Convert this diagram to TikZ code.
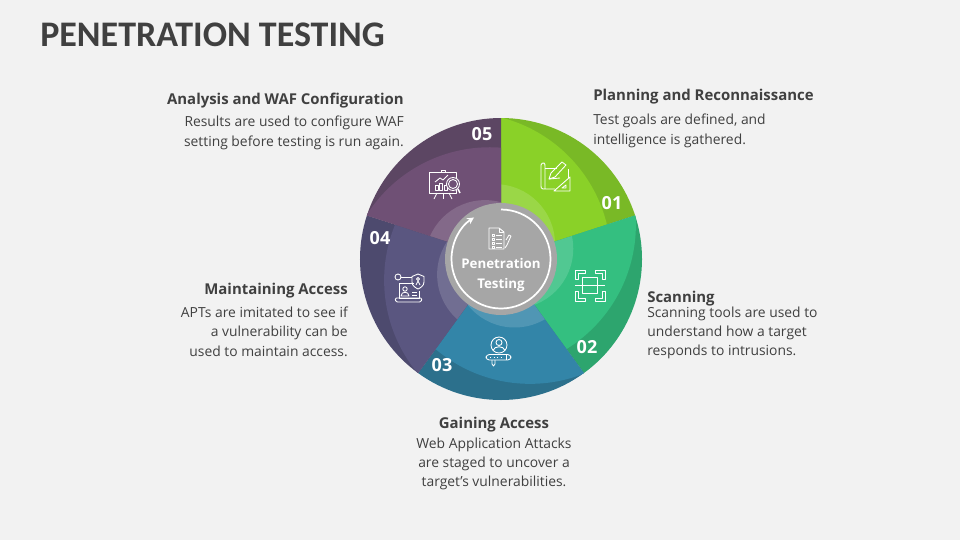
\documentclass[tikz,border=0pt]{standalone}
\usepackage{fontspec}
\setmainfont{Open Sans}
\newfontfamily\titlefont{Carlito}
\definecolor{pagebg}{HTML}{F2F2F2}
\definecolor{inktext}{HTML}{404040}
\definecolor{hubgrey}{HTML}{A6A6A6}
\definecolor{greenA}{HTML}{8AD128}
\definecolor{greenB}{HTML}{79B926}
\definecolor{mintA}{HTML}{34BF80}
\definecolor{mintB}{HTML}{2DA56E}
\definecolor{blueA}{HTML}{3385A8}
\definecolor{blueB}{HTML}{2C708C}
\definecolor{slateA}{HTML}{5A5680}
\definecolor{slateB}{HTML}{4D4A6E}
\definecolor{plumA}{HTML}{6F5075}
\definecolor{plumB}{HTML}{5C4663}
\tikzset{
  headlabel/.style={inner sep=0,font=\fontsize{11.2pt}{13pt}\selectfont\bfseries,text=inktext},
  bodylabel/.style={inner sep=0,font=\fontsize{10.4pt}{14.5pt}\selectfont,text=inktext},
  numlabel/.style={inner sep=0,font=\fontsize{13.5pt}{15pt}\selectfont\bfseries,text=white},
  iconline/.style={draw=white,line width=0.65pt,line join=round,fill=none},
}
\begin{document}
\begin{tikzpicture}[x=0.75pt,y=-0.75pt,line join=round,>=stealth]
\useasboundingbox (0,0) rectangle (960,540);
\fill[pagebg](0,0) rectangle (960,540);

\node[anchor=base west,inner sep=0,font=\titlefont\fontsize{27pt}{30pt}\selectfont\bfseries,text=inktext] (title) at (40,46) {PENETRATION TESTING};

% the five wedges
\begin{scope}[shift={(501,259)},y=0.75pt]
  \foreach \ang/\light/\dark in {90/greenA/greenB,18/mintA/mintB,-54/blueA/blueB,-126/slateA/slateB,-198/plumA/plumB}{
    \begin{scope}
      \clip (0,0)--(\ang:141) arc[start angle=\ang,delta angle=-72,radius=141]--cycle;
      \fill[\dark](-150,-150) rectangle (150,150);
      \fill[\light](\ang+90:36) circle[radius=146];
      \fill[white,opacity=0.145](\ang+22:16) circle[radius=60];
    \end{scope}
  }
  \fill[hubgrey](0,0) circle[radius=56];
  \draw[white,line width=1.3pt,->](90:49.5) arc[start angle=90,end angle=-237,radius=49.5];
\end{scope}
\coordinate (hub) at (501,259);

\node[numlabel] (num1) at (612,203) {01};
\node[numlabel] (num2) at (587,347) {02};
\node[numlabel] (num3) at (442,365) {03};
\node[numlabel] (num4) at (380,238) {04};
\node[numlabel] (num5) at (482,134) {05};

\node[inner sep=0,align=center,font=\fontsize{10pt}{14.3pt}\selectfont\bfseries,text=white] (hubtext) at (501,275) {Penetration\\Testing};

% plan icon
\draw[iconline](545,189)--(543,189)..controls (541,189) and (541,187) .. (541,186)--(541,165)..controls (541,163) and (543,163) .. (544,163)..controls (545,163) and (545,165) .. (545,167)--(545,189)--(555,189);
\draw[iconline](545,168)--(557,168);
\draw[iconline](568,169)--(568,178);
\draw[iconline](570,177)--(570,191)--(554,191)--cycle;
\draw[iconline](566,185)--(566,188)--(562,188)--cycle;
\draw[iconline](549,179)--(551,173)--(562,162)--(566,165)--(555,177)--cycle;
\draw[iconline](549,179)--(560,178);
% scan icon
\draw[iconline](582,277) rectangle (597,293);
\draw[iconline](575,285)--(605,285);
\foreach \sx/\sy in {1/1,-1/1,1/-1,-1/-1}{
  \draw[iconline,shift={(590,285.5)},xscale=\sx,yscale=\sy](-15,-15.5)--(-5,-15.5)--(-5,-12.5)--(-12,-12.5)--(-12,-6)--(-15,-6)--cycle;
}
% user icon
\draw[iconline](499,345) circle[radius=8];
\draw[iconline](499,342.5) circle[radius=3];
\draw[iconline](493,350.5)..controls (494,345.5) and (504,345.5) .. (505,350.5);
\draw[iconline,rounded corners=2.5pt](486,354.5) rectangle (511,360);
\draw[iconline](506,354.5)--(506,360);
\draw[iconline,dotted](490,357.2)--(503,357.2);
\draw[iconline](492,360)--(492,364)--(493.5,366)--(495,364)--(495,360);
% laptop icon
\draw[iconline](414,283)--(399,283)--(399,298)--(419,298)--(419,291);
\draw[iconline,rounded corners=1pt](395,298)--(422,298)--(421,302)--(396,302)--cycle;
\draw[iconline](398,277) circle[radius=3];
\draw[iconline](401,277)--(412,277);
\draw[iconline](418,274)--(424,276.5)--(424,282)..controls (424,286) and (420,288) .. (418,289)..controls (416,288) and (412,286) .. (412,282)--(412,276.5)--cycle;
\draw[iconline](418,279) circle[radius=1.5];
\draw[iconline](416,285)--(418,281)--(420,285);
\draw[iconline](405,289) circle[radius=2.2];
\draw[iconline](401,296)..controls (401,291) and (409,291) .. (409,296)--cycle;
\draw[iconline](412,292)--(417,292);
\draw[iconline](412,295)--(417,295);
% board icon
\draw[iconline](429,172) rectangle (456,193);
\draw[iconline](441,172)--(441,170)--(445,170)--(445,172);
\draw[iconline](437,193)--(434,199);
\draw[iconline](443,193)--(443,199);
\draw[iconline](449,193)--(452,199);
\draw[iconline](435,182)--(440,178)--(443,180)--(448,175);
\draw[iconline](435,185) rectangle (438,190);
\draw[iconline](439.5,183) rectangle (442.5,190);
\draw[iconline](444,185) rectangle (447,190);
\fill[plumA](453,184) circle[radius=6.5];
\draw[iconline](453,184) circle[radius=6.5];
\draw[iconline](453,184) circle[radius=4.5];
\draw[iconline,line width=1.1pt](458,189)--(460,193);
% report icon
\draw[iconline](489,228)--(499,228)--(504,232)--(504,249)--(489,249)--cycle;
\draw[iconline](499,228)--(499,232)--(504,232);
\foreach \ly in {234,238,242,246}{
  \draw[iconline](492,\ly) rectangle (494,\ly+2);
  \draw[iconline](496,\ly+1)--(502,\ly+1);
}
\draw[iconline](506,240)--(509,235)--(511,236)--(507,245)--(505,248);

% labels
\node[headlabel,anchor=base east] (head5) at (404,104) {Analysis and WAF Configuration};
\node[bodylabel,anchor=north east,align=right] (body5) at (404,116) {Results are used to configure WAF\\setting before testing is run again.};
\node[headlabel,anchor=base west] (head1) at (593,100) {Planning and Reconnaissance};
\node[bodylabel,anchor=north west,align=left] (body1) at (593,114) {Test goals are defined, and\\intelligence is gathered.};
\node[headlabel,anchor=base west] (head2) at (647,302) {Scanning};
\node[bodylabel,anchor=north west,align=left] (body2) at (647,306.5) {Scanning tools are used to\\understand how a target\\responds to intrusions.};
\node[headlabel,anchor=base] (head3) at (494,428) {Gaining Access};
\node[bodylabel,anchor=north,align=center] (body3) at (494,437.5) {Web Application Attacks\\are staged to uncover a\\target’s vulnerabilities.};
\node[headlabel,anchor=base east] (head4) at (348,294) {Maintaining Access};
\node[bodylabel,anchor=north east,align=right] (body4) at (348,306.5) {APTs are imitated to see if\\a vulnerability can be\\used to maintain access.};
\end{tikzpicture}
\end{document}
